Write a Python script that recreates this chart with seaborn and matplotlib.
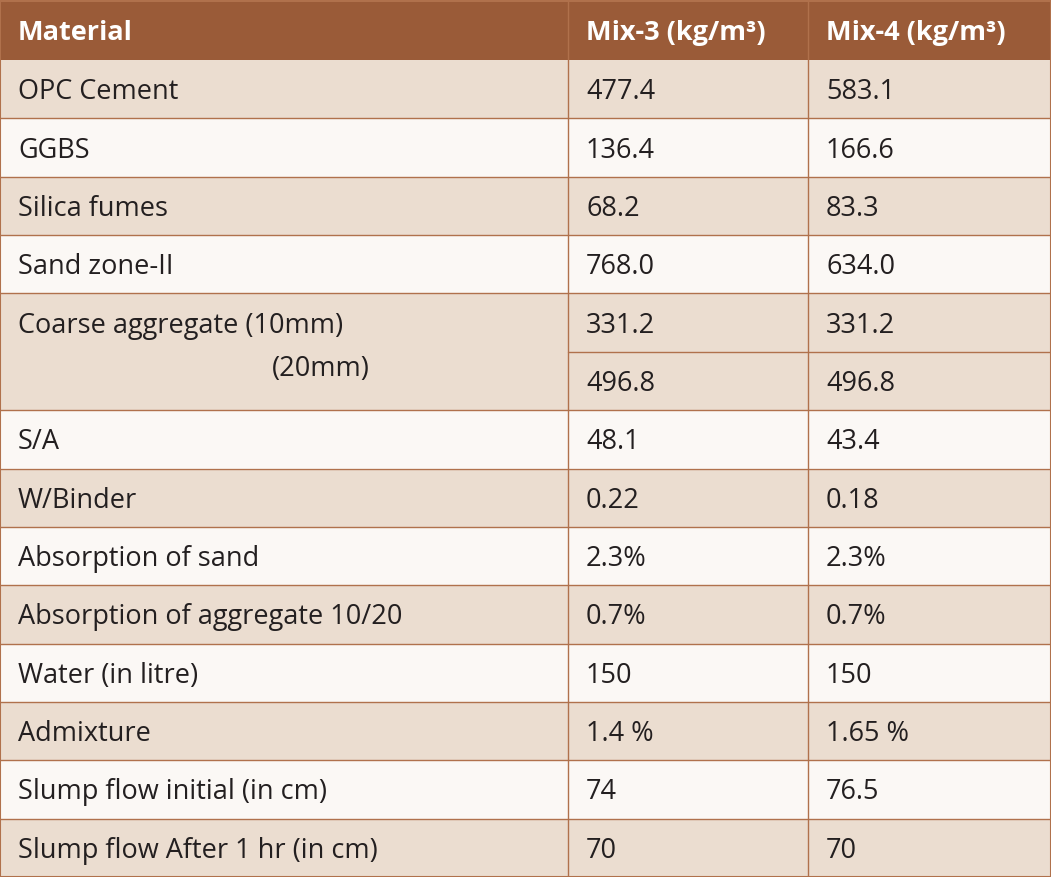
import matplotlib
matplotlib.use("Agg")
import matplotlib.pyplot as plt
import seaborn as sns
from matplotlib.patches import Rectangle

sns.set_theme(style="white")
plt.rcParams['font.family'] = ['Open Sans', 'DejaVu Sans']

headers = ["Material", "Mix-3 (kg/m³)", "Mix-4 (kg/m³)"]
materials = ["OPC Cement", "GGBS", "Silica fumes", "Sand zone-II", "Coarse aggregate (10mm)",
             "(20mm)", "S/A", "W/Binder", "Absorption of sand", "Absorption of aggregate 10/20",
             "Water (in litre)", "Admixture", "Slump flow initial (in cm)", "Slump flow After 1 hr (in cm)"]
mix3 = ["477.4", "136.4", "68.2", "768.0", "331.2", "496.8", "48.1", "0.22", "2.3%", "0.7%",
        "150", "1.4 %", "74", "70"]
mix4 = ["583.1", "166.6", "83.3", "634.0", "331.2", "496.8", "43.4", "0.18", "2.3%", "0.7%",
        "150", "1.65 %", "76.5", "70"]
shade = [1, 0, 1, 0, 1, 1, 0, 1, 0, 1, 0, 1, 0, 1]

W, H = 1051, 877
fig = plt.figure(figsize=(W/100, H/100), dpi=100)
ax = fig.add_axes([0, 0, 1, 1])
ax.set_xlim(0, W); ax.set_ylim(H, 0); ax.axis("off")

cols = [0, 568, 808, W]
hh = 60
rh = (H - hh) / len(materials)
brown = "#9A5B38"; beige = "#EBDDD0"; light = "#FBF8F5"; line = "#B0714C"
fs = 19.5
dy = 3

ax.add_patch(Rectangle((0, 0), W, hh, color=brown))
for j, t in enumerate(headers):
    ax.text(cols[j] + 18, hh/2 + 3, t, color="white", fontsize=fs, fontweight="bold", va="center")

for i in range(len(materials)):
    y = hh + i * rh
    ax.add_patch(Rectangle((0, y), W, rh, color=beige if shade[i] else light, lw=0))
    ax.text(cols[1] + 18, y + rh/2 + dy, mix3[i], fontsize=fs, va="center", color="#231F20")
    ax.text(cols[2] + 18, y + rh/2 + dy, mix4[i], fontsize=fs, va="center", color="#231F20")
    if i == 5:
        ax.text(272, y + 17, materials[i], fontsize=fs, va="center", color="#231F20")
    else:
        ax.text(18, y + rh/2 + dy, materials[i], fontsize=fs, va="center", color="#231F20")
    if i == 5:
        ax.plot([cols[1], W], [y, y], color=line, lw=1)
    elif i > 0:
        ax.plot([0, W], [y, y], color=line, lw=1)

for x in cols[1:3]:
    ax.plot([x, x], [0, H], color=line, lw=1)
ax.plot([0, W, W, 0, 0], [0.5, 0.5, H-0.5, H-0.5, 0.5], color=line, lw=1.5)

fig.savefig("out.png", dpi=100)
